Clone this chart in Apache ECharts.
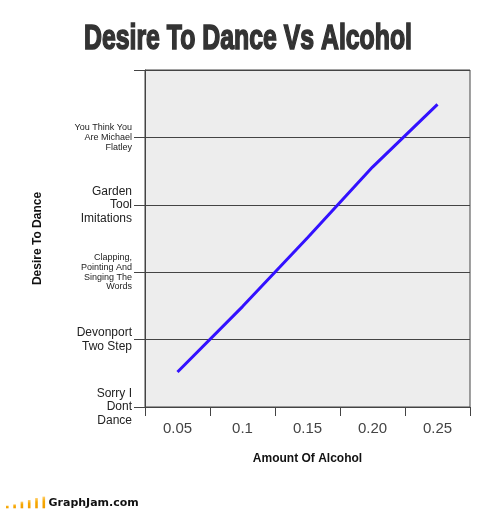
<!DOCTYPE html>
<html>
<head>
<meta charset="utf-8">
<script src="https://cdn.jsdelivr.net/npm/echarts@6/dist/echarts.min.js"></script>
<style>
html,body{margin:0;padding:0;background:#fff;}
#chart{width:504px;height:509px;}
</style>
</head>
<body>
<div id="chart"></div>
<script>
var titleText = 'Desire To Dance Vs Alcohol';
var categories = ['0.05', '0.1', '0.15', '0.20', '0.25'];
var desireValues = [0.52, 1.49, 2.51, 3.56, 4.49];
var levelLabels = [
  ['Sorry I', 'Dont', 'Dance'],
  ['Devonport', 'Two Step'],
  ['Clapping,', 'Pointing And', 'Singing The', 'Words'],
  ['Garden', 'Tool', 'Imitations'],
  ['You Think You', 'Are Michael', 'Flatley'],
  []
];
var levelStyle = ['b', 'b', 's', 'b', 's', 'b'];
var xTitle = 'Amount Of Alcohol';
var yTitle = 'Desire To Dance';
var logoText = 'GraphJam.com';
var logoBarHeights = [2.7, 4, 6.7, 8.3, 10.3, 11.7];

var titleFont = 'bold 35px "Liberation Sans"';
var cv = document.createElement('canvas').getContext('2d');
cv.font = titleFont;
var titleW = cv.measureText(titleText).width;
var titleScale = 328 / titleW;

var chart = echarts.init(document.getElementById('chart'), null, {renderer: 'canvas'});

var logoChildren = logoBarHeights.map(function (h, i) {
  return {
    type: 'rect',
    shape: {x: 6 + i * 7.3, y: 508.3 - h, width: 2.6, height: h},
    style: {
      fill: new echarts.graphic.LinearGradient(0, 0, 0, 1, [
        {offset: 0, color: '#ffd070'},
        {offset: 0.4, color: '#f7a800'},
        {offset: 1, color: '#f29e00'}
      ])
    }
  };
});
logoChildren.push({
  type: 'text',
  x: 48.5, y: 503.3,
  style: {text: logoText, font: 'bold 11px "DejaVu Sans"', fill: '#111', align: 'left', verticalAlign: 'middle'}
});

chart.setOption({
  backgroundColor: '#ffffff',
  animation: false,
  textStyle: {fontFamily: '"Liberation Sans", Arial, sans-serif'},
  grid: {
    left: 145, right: 34, top: 70, bottom: 102,
    show: true, backgroundColor: '#ededed', borderColor: '#444', borderWidth: 1
  },
  graphic: [
    {
      type: 'text',
      x: 248, y: 39.5,
      scaleX: titleScale,
      style: {text: titleText, font: titleFont, fill: '#333', stroke: '#333', lineWidth: 1.6, align: 'center', verticalAlign: 'middle'}
    },
    {type: 'group', children: logoChildren}
  ],
  xAxis: {
    type: 'category',
    data: categories,
    boundaryGap: true,
    axisLine: {lineStyle: {color: '#444', width: 1}},
    axisTick: {show: true, length: 9, lineStyle: {color: '#444'}},
    axisLabel: {fontSize: 15, color: '#444', margin: 14},
    name: xTitle,
    nameLocation: 'middle',
    nameGap: 46,
    nameTextStyle: {fontSize: 12, fontWeight: 'bold', color: '#111'}
  },
  yAxis: {
    type: 'value',
    min: 0, max: 5, interval: 1,
    axisLine: {show: true, lineStyle: {color: '#444', width: 1}},
    axisTick: {show: true, length: 11, lineStyle: {color: '#444'}},
    splitLine: {show: true, lineStyle: {color: '#444', width: 1}},
    axisLabel: {
      margin: 13,
      color: '#222',
      formatter: function (v) {
        var i = Math.round(v);
        var lines = levelLabels[i] || [];
        var st = levelStyle[i];
        return lines.map(function (l) { return '{' + st + '|' + l + '}'; }).join('\n');
      },
      rich: {
        b: {fontSize: 12, lineHeight: 13.5, color: '#222', align: 'right'},
        s: {fontSize: 9, lineHeight: 9.7, color: '#222', align: 'right'}
      }
    },
    name: yTitle,
    nameLocation: 'middle',
    nameGap: 101,
    nameTextStyle: {fontSize: 12, fontWeight: 'bold', color: '#111'}
  },
  series: [{
    type: 'line',
    data: desireValues,
    symbol: 'none',
    smooth: false,
    lineStyle: {color: '#3311ff', width: 3},
    itemStyle: {color: '#3311ff'}
  }]
});
</script>
</body>
</html>
